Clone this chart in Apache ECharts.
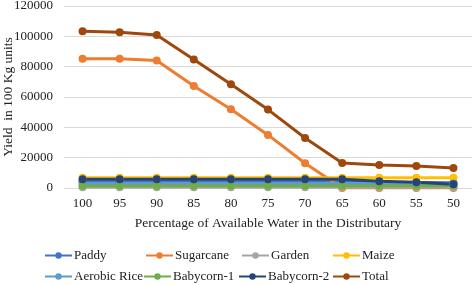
<!DOCTYPE html>
<html>
<head>
<meta charset="utf-8">
<script src="https://cdn.jsdelivr.net/npm/echarts@6/dist/echarts.min.js"></script>
<style>
  html, body { margin: 0; padding: 0; background: #fff; }
  #chart { width: 474px; height: 285px; }
</style>
</head>
<body>
<div id="chart"></div>
<script>
// x categories: percentage of available water
const waterPct = ["100", "95", "90", "85", "80", "75", "70", "65", "60", "55", "50"];

// yields in 100 Kg units
const paddy       = [4200, 4200, 4200, 4200, 4200, 4200, 4200, 4200, 3800, 3600, 3400];
const sugarcane   = [85300, 85300, 84000, 67300, 51900, 35000, 16300, 0, 0, 0, 0];
const garden      = [500, 500, 500, 500, 500, 500, 500, 500, 500, 500, 500];
const maize       = [6800, 6800, 6800, 6800, 6800, 6800, 6800, 6800, 6800, 6800, 6800];
const aerobicRice = [3000, 3000, 3000, 3000, 3000, 3000, 3000, 3000, 3000, 3000, 3000];
const babycorn1   = [1500, 1500, 1500, 1500, 1500, 1500, 1500, 1500, 1500, 1500, 1500];
const babycorn2   = [5700, 5700, 5700, 5700, 5700, 5700, 5700, 5700, 4400, 3800, 2500];
const total       = [103300, 102700, 100900, 84700, 68400, 51700, 33000, 16500, 15200, 14500, 13200];

const yTicks = [0, 20000, 40000, 60000, 80000, 100000, 120000];

const seriesDefs = [
  { name: "Paddy", data: paddy, color: "#4472C4" },
  { name: "Sugarcane", data: sugarcane, color: "#ED7D31" },
  { name: "Garden", data: garden, color: "#A5A5A5" },
  { name: "Maize", data: maize, color: "#FFC000" },
  { name: "Aerobic Rice", data: aerobicRice, color: "#5B9BD5" },
  { name: "Babycorn-1", data: babycorn1, color: "#70AD47" },
  { name: "Babycorn-2", data: babycorn2, color: "#264478" },
  { name: "Total", data: total, color: "#9E480E" },
];

// legend slots (two rows of four)
const legendPos = [
  [44, 249], [145, 249], [241, 249], [332, 249],
  [44, 270], [143, 270], [238, 270], [332, 270],
];

const font = "'Liberation Serif', 'DejaVu Serif', serif";
const chart = echarts.init(document.getElementById("chart"));

chart.setOption({
  animation: false,
  textStyle: { fontFamily: font, color: "#222" },
  grid: { left: 64, right: 2, top: 6, bottom: 97, outerBoundsMode: "none", containLabel: false },
  legend: seriesDefs.map((s, i) => ({
    data: [s.name],
    left: legendPos[i][0],
    top: legendPos[i][1],
    itemWidth: 27,
    itemHeight: 8,
    itemGap: 2,
    padding: 0,
    textStyle: { fontFamily: font, fontSize: 13, color: "#222", padding: [0, 0, 0, -3] },
  })),
  xAxis: {
    type: "category",
    data: waterPct,
    boundaryGap: true,
    name: "Percentage of Available Water in the Distributary",
    nameLocation: "middle",
    nameGap: 28,
    nameMoveOverlap: false,
    nameTextStyle: { fontFamily: font, fontSize: 13.5, color: "#222" },
    axisLine: { show: false },
    axisTick: { show: false },
    axisLabel: { fontFamily: font, fontSize: 13, color: "#222", margin: 9 },
  },
  yAxis: {
    type: "value",
    min: yTicks[0],
    max: yTicks[yTicks.length - 1],
    interval: 20000,
    name: "Yield  in 100 Kg units",
    nameLocation: "middle",
    nameGap: 49,
    nameMoveOverlap: false,
    nameTextStyle: { fontFamily: font, fontSize: 13.5, color: "#222" },
    axisLine: { show: false },
    axisTick: { show: false },
    axisLabel: { fontFamily: font, fontSize: 13, color: "#222", margin: 11, formatter: (v) => String(v) },
    splitLine: { lineStyle: { color: "#d9d9d9", width: 1 } },
  },
  series: seriesDefs.map((s) => ({
    name: s.name,
    type: "line",
    data: s.data,
    color: s.color,
    symbol: "circle",
    symbolSize: 8,
    lineStyle: { width: 3, color: s.color },
    itemStyle: { color: s.color },
  })),
});
</script>
</body>
</html>
